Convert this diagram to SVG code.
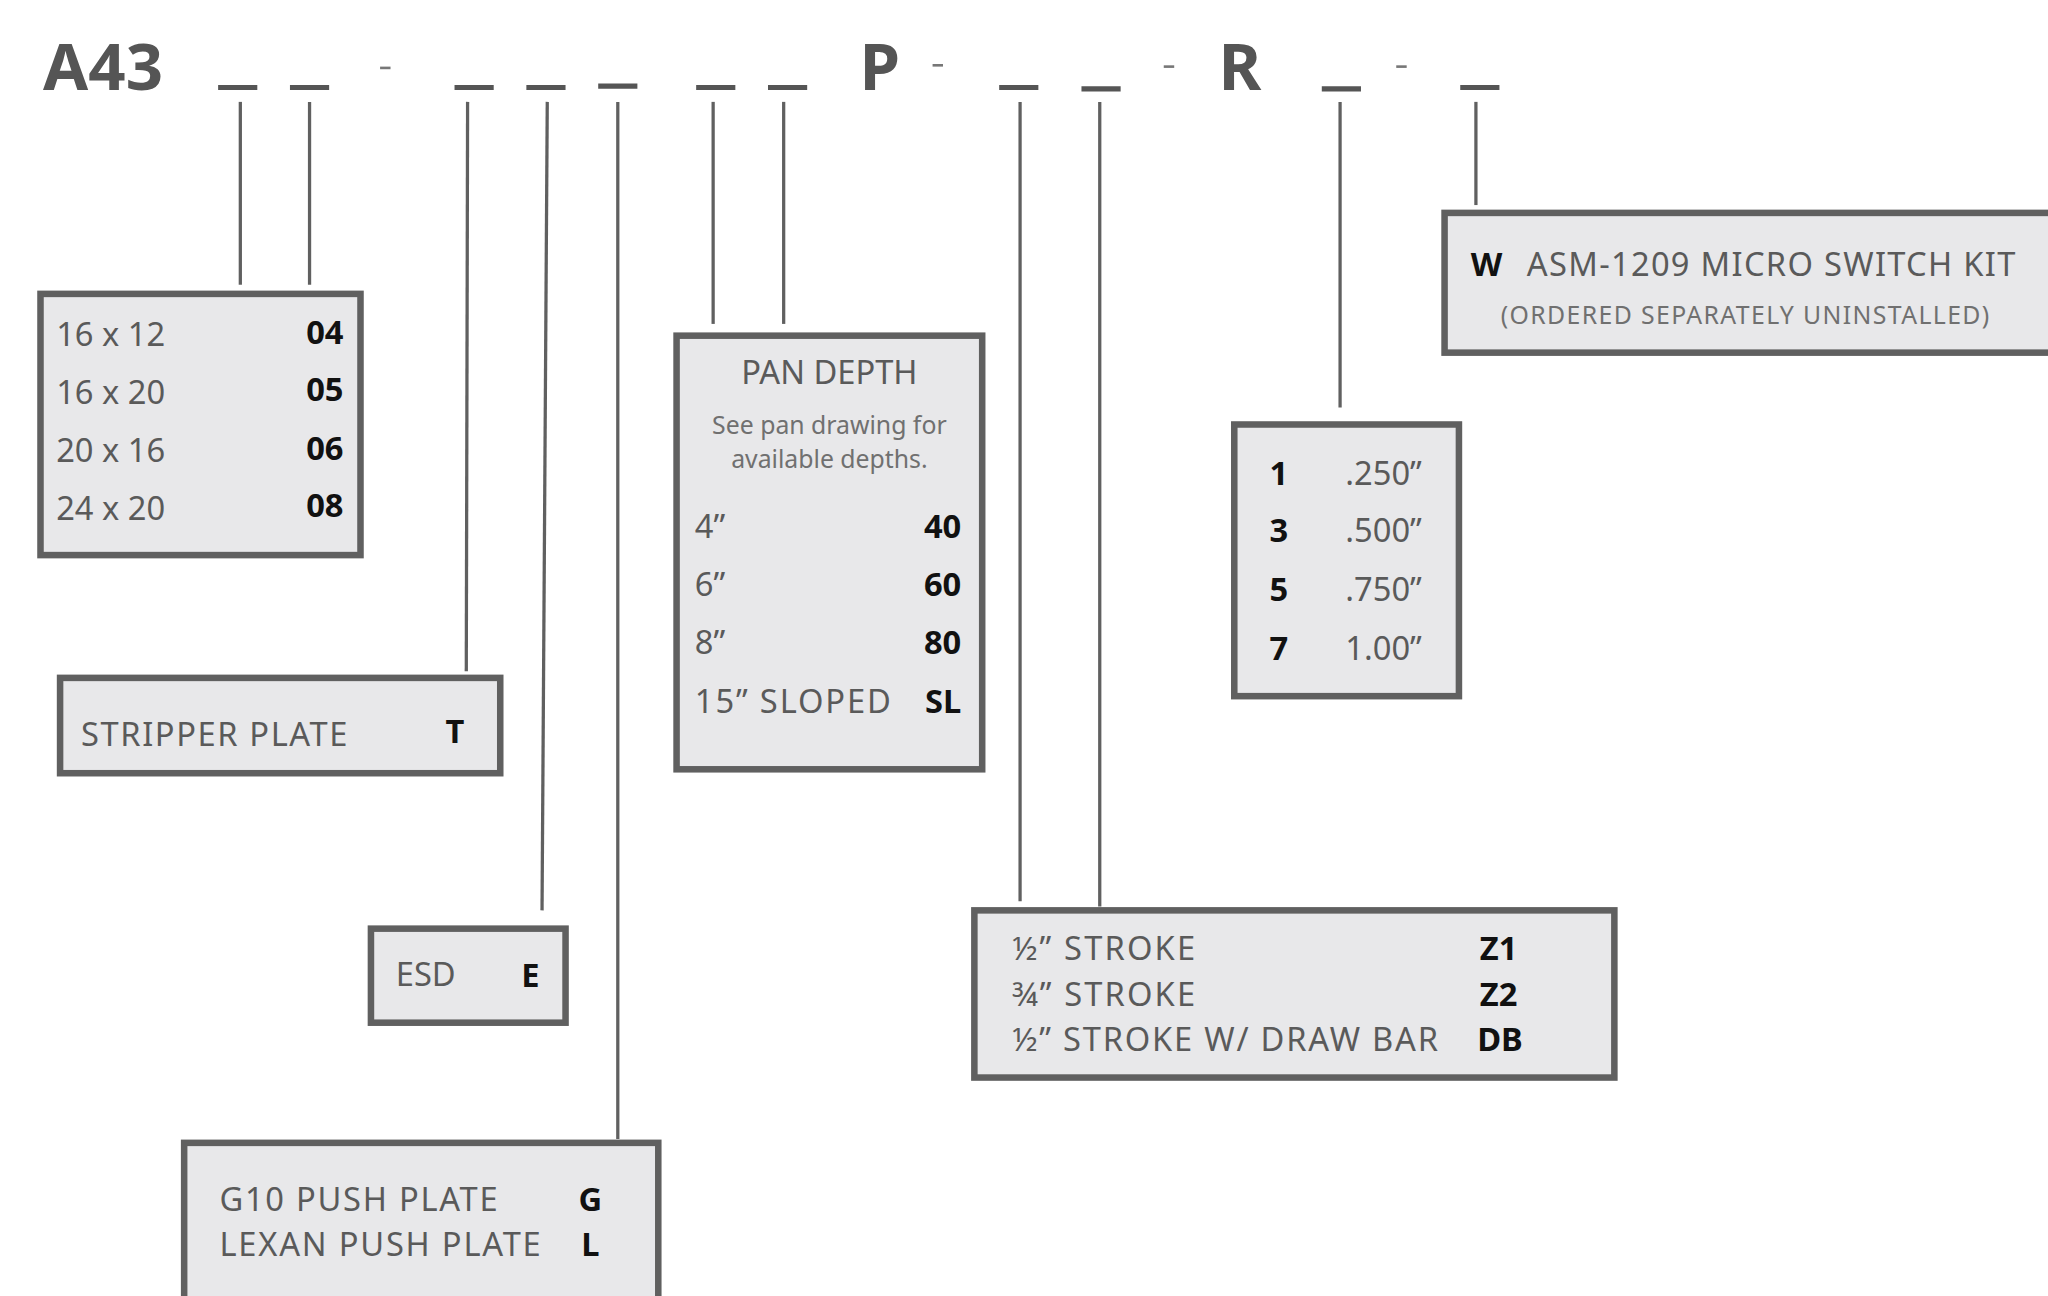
<svg xmlns="http://www.w3.org/2000/svg" width="2048" height="1296" viewBox="0 0 2048 1296">
<style>
.bx{fill:#e8e8ea;stroke:#606060;stroke-width:5}
.ln{stroke:#606060;stroke-width:2.5;fill:none}
.us{stroke:#555;stroke-width:4}
.t{font-family:"Noto Sans","DejaVu Sans",sans-serif;font-size:25px;fill:#5a5a5a}
.c{font-family:"Noto Sans","DejaVu Sans",sans-serif;font-size:25px;font-weight:bold;fill:#111}
.s{font-family:"Noto Sans","DejaVu Sans",sans-serif;font-size:19px;fill:#707070}
.h{font-family:"Noto Sans","DejaVu Sans",sans-serif;font-size:50px;font-weight:bold;fill:#555}
</style>
<rect width="2048" height="1296" fill="#fff"/>
<g transform="scale(1.30612)">
<g id="header">
<text class="h" x="33" y="69">A43</text>
<text class="h" x="658" y="69">P</text>
<text class="h" x="933" y="69">R</text>
<g class="us">
<line x1="167" y1="67" x2="197" y2="67"/><line x1="222" y1="67" x2="252" y2="67"/>
<line x1="348" y1="67" x2="378" y2="67"/><line x1="403" y1="67" x2="433" y2="67"/><line x1="458" y1="66" x2="488" y2="66"/>
<line x1="533" y1="67" x2="563" y2="67"/><line x1="588" y1="67" x2="618" y2="67"/>
<line x1="765" y1="67" x2="795" y2="67"/><line x1="828" y1="68" x2="858" y2="68"/>
<line x1="1012" y1="68" x2="1042" y2="68"/><line x1="1118" y1="67" x2="1148" y2="67"/>
</g>
<g stroke="#777" stroke-width="2">
<line x1="291" y1="52" x2="299" y2="52"/><line x1="714" y1="50" x2="722" y2="50"/>
<line x1="891" y1="51" x2="899" y2="51"/><line x1="1069" y1="51" x2="1077" y2="51"/>
</g>
</g>
<g id="connectors" class="ln">
<line x1="184" y1="78" x2="184" y2="218"/><line x1="237" y1="78" x2="237" y2="218"/>
<line x1="358" y1="78" x2="357" y2="514"/><line x1="419" y1="78" x2="415" y2="697"/>
<line x1="473" y1="78" x2="473" y2="872"/>
<line x1="546" y1="78" x2="546" y2="248"/><line x1="600" y1="78" x2="600" y2="248"/>
<line x1="781" y1="78" x2="781" y2="690"/><line x1="842" y1="78" x2="842" y2="694"/>
<line x1="1026" y1="78" x2="1026" y2="312"/><line x1="1130" y1="78" x2="1130" y2="157"/>
</g>
<g id="size">
<rect class="bx" x="31" y="225" width="245" height="200"/>
<text class="t" x="43" y="265">16 x 12</text><text class="c" x="263" y="263" text-anchor="end">04</text>
<text class="t" x="43" y="309">16 x 20</text><text class="c" x="263" y="307" text-anchor="end">05</text>
<text class="t" x="43" y="354">20 x 16</text><text class="c" x="263" y="352" text-anchor="end">06</text>
<text class="t" x="43" y="398">24 x 20</text><text class="c" x="263" y="396" text-anchor="end">08</text>
</g>
<g id="stripper">
<rect class="bx" x="46" y="519" width="337" height="73"/>
<text class="t" x="62" y="571" textLength="204">STRIPPER PLATE</text><text class="c" x="341" y="569">T</text>
</g>
<g id="esd">
<rect class="bx" x="284" y="711" width="149" height="72"/>
<text class="t" x="303" y="755">ESD</text><text class="c" x="399" y="756">E</text>
</g>
<g id="push">
<rect class="bx" x="141" y="875" width="363" height="125"/>
<text class="t" x="168" y="927" textLength="213">G10 PUSH PLATE</text><text class="c" x="443" y="927">G</text>
<text class="t" x="168" y="962" textLength="246">LEXAN PUSH PLATE</text><text class="c" x="445" y="962">L</text>
</g>
<g id="pan">
<rect class="bx" x="518" y="257" width="234" height="332"/>
<text class="t" x="635" y="294" text-anchor="middle" fill="#222">PAN DEPTH</text>
<text class="s" x="635" y="332" text-anchor="middle">See pan drawing for</text>
<text class="s" x="635" y="358" text-anchor="middle">available depths.</text>
<text class="t" x="532" y="412">4”</text><text class="c" x="736" y="412" text-anchor="end">40</text>
<text class="t" x="532" y="456">6”</text><text class="c" x="736" y="456" text-anchor="end">60</text>
<text class="t" x="532" y="501">8”</text><text class="c" x="736" y="501" text-anchor="end">80</text>
<text class="t" x="532" y="546" textLength="150">15” SLOPED</text><text class="c" x="736" y="546" text-anchor="end">SL</text>
</g>
<g id="stroke">
<rect class="bx" x="746" y="697" width="490" height="128"/>
<text class="t" x="775" y="735" textLength="140">½” STROKE</text><text class="c" x="1133" y="735">Z1</text>
<text class="t" x="775" y="770" textLength="140">¾” STROKE</text><text class="c" x="1133" y="770">Z2</text>
<text class="t" x="775" y="805" textLength="326">½” STROKE W/ DRAW BAR</text><text class="c" x="1131" y="805">DB</text>
</g>
<g id="r">
<rect class="bx" x="945" y="325" width="172" height="208"/>
<text class="c" x="972" y="371">1</text><text class="t" x="1030" y="371">.250”</text>
<text class="c" x="972" y="415">3</text><text class="t" x="1030" y="415">.500”</text>
<text class="c" x="972" y="460">5</text><text class="t" x="1030" y="460">.750”</text>
<text class="c" x="972" y="505">7</text><text class="t" x="1030" y="505">1.00”</text>
</g>
<g id="switch">
<rect class="bx" x="1106" y="163" width="470" height="107"/>
<text class="c" x="1126" y="211">W</text><text class="t" x="1169" y="211" textLength="374">ASM-1209 MICRO SWITCH KIT</text>
<text class="s" x="1149" y="248" textLength="374">(ORDERED SEPARATELY UNINSTALLED)</text>
</g>
</g>
</svg>
